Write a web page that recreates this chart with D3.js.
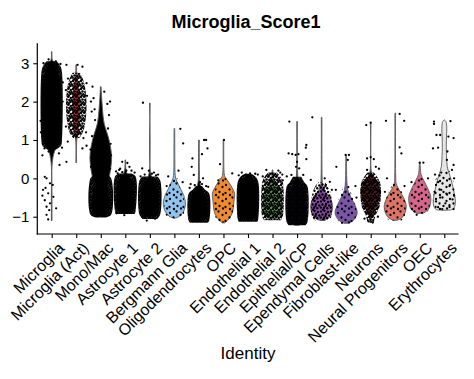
<!DOCTYPE html>
<html><head><meta charset="utf-8">
<script src="https://cdn.jsdelivr.net/npm/d3@7"></script>
<style>
body{margin:0;background:#fff}
svg{display:block}
text{font-family:"Liberation Sans",Arial,sans-serif}
</style>
</head><body>
<svg id="chart" width="474" height="379"></svg>
<script>
// ---------------- data ----------------
const chartTitle = "Microglia_Score1";
const xTitle = "Identity";
const categories = ["Microglia","Microglia (Act)","Mono/Mac","Astrocyte 1","Astrocyte 2","Bergmann Glia",
  "Oligodendrocytes","OPC","Endothelial 1","Endothelial 2","Epithelial/CP","Ependymal Cells",
  "Fibroblast-like","Neurons","Neural Progenitors","OEC","Erythrocytes"];
const yTicks = [-1, 0, 1, 2, 3];

// violin density outline per category: [score, relative half-width]
const violinShapes = [
  [[-1.1,0.03],[-0.5,0.03],[0.4,0.05],[0.7,0.25],[1.0,0.75],[1.8,0.85],[2.6,0.75],[2.95,0.3],[3.1,0.05],[3.3,0.03]],
  [[0.41,0.03],[1.0,0.05],[1.2,0.18],[1.6,0.3],[1.9,0.34],[2.3,0.26],[2.55,0.1],[2.7,0.05],[2.96,0.03]],
  [[-0.98,0.2],[-0.9,0.7],[-0.7,0.85],[-0.4,0.7],[-0.13,0.6],[0.12,0.82],[0.56,0.98],[1.0,0.75],[1.44,0.3],[1.78,0.16],[2.1,0.08],[2.39,0.03]],
  [[-0.9,0.3],[-0.8,0.75],[-0.45,0.8],[-0.1,0.7],[0.05,0.25],[0.25,0.05],[0.48,0.03]],
  [[-1.0,0.3],[-0.9,0.75],[-0.6,0.8],[-0.2,0.7],[-0.02,0.25],[0.2,0.04],[1.96,0.03]],
  [[-1.04,0.05],[-0.98,0.5],[-0.85,0.85],[-0.65,1.0],[-0.45,0.85],[-0.3,0.6],[-0.15,0.35],[0.0,0.12],[0.15,0.06],[0.5,0.04],[1.3,0.03]],
  [[-1.1,0.3],[-1.02,0.75],[-0.8,0.8],[-0.5,0.7],[-0.32,0.3],[-0.1,0.08],[0.2,0.04],[1.0,0.03]],
  [[-1.16,0.1],[-1.05,0.5],[-0.9,0.8],[-0.6,0.95],[-0.39,1.0],[-0.2,0.7],[-0.05,0.35],[0.05,0.12],[0.2,0.05],[1.0,0.03]],
  [[-1.08,0.3],[-1.0,0.75],[-0.5,0.8],[-0.15,0.75],[0.0,0.4],[0.1,0.05]],
  [[-1.05,0.3],[-0.95,0.75],[-0.6,0.85],[-0.3,0.7],[-0.1,0.28],[0.0,0.1],[0.1,0.06],[0.22,0.04]],
  [[-1.22,0.2],[-1.1,0.75],[-0.8,0.85],[-0.4,0.7],[-0.15,0.35],[0.0,0.1],[0.2,0.04],[1.48,0.03]],
  [[-1.09,0.2],[-1.0,0.7],[-0.75,1.0],[-0.5,0.75],[-0.35,0.35],[-0.2,0.1],[0.0,0.05],[1.59,0.03]],
  [[-1.17,0.2],[-1.08,0.7],[-0.9,1.0],[-0.7,0.8],[-0.5,0.45],[-0.3,0.15],[-0.05,0.06],[0.2,0.04],[0.61,0.03]],
  [[-1.15,0.04],[-0.95,0.15],[-0.7,0.6],[-0.35,0.9],[-0.1,0.65],[0.05,0.2],[0.2,0.05],[1.43,0.03]],
  [[-1.09,0.2],[-1.0,0.7],[-0.74,1.0],[-0.5,0.75],[-0.3,0.35],[-0.15,0.1],[0.0,0.05],[1.7,0.03]],
  [[-0.91,0.3],[-0.8,0.8],[-0.5,1.0],[-0.25,0.7],[-0.05,0.35],[0.1,0.12],[0.3,0.05],[0.39,0.04]],
  [[-0.83,0.2],[-0.8,0.8],[-0.65,1.0],[-0.39,0.9],[-0.04,0.62],[0.3,0.27],[0.6,0.2],[0.8,0.18],[1.1,0.2],[1.35,0.22],[1.48,0.15],[1.52,0.03]]
];

// envelope of the dense jittered cell cloud: [score, relative half-width]
const cloudShapes = [
  [[0.75,0.4],[0.85,0.9],[1.0,1],[2.75,1],[2.92,0.85],[3.05,0.5]],
  [[1.05,0.3],[1.2,0.65],[1.5,0.9],[1.9,1.0],[2.3,0.9],[2.55,0.7],[2.75,0.35]],
  [[-1.02,0.5],[-0.95,1.0],[0.0,1.0],[0.1,0.6]],
  [[-0.93,0.9],[-0.85,1],[0.05,1],[0.13,0.6]],
  [[-1.06,0.7],[-0.95,1],[-0.05,1],[0.05,0.7]],
  [[-1.04,0.3],[-0.95,0.85],[-0.7,1],[-0.4,0.8],[-0.2,0.5],[0.0,0.3]],
  [[-1.16,0.85],[-1.1,1],[-0.4,1],[-0.3,0.6],[-0.2,0.3]],
  [[-1.15,0.4],[-1.0,0.8],[-0.5,1],[-0.2,0.7],[0.0,0.35]],
  [[-1.13,0.9],[-1.05,1],[-0.1,1],[0.05,0.7],[0.12,0.3]],
  [[-1.09,0.8],[-1.0,1],[-0.1,1],[0.05,0.75],[0.15,0.4]],
  [[-1.22,0.8],[-1.15,1],[-0.2,1],[-0.1,0.7],[0.04,0.4]],
  [[-1.1,0.6],[-1.0,0.95],[-0.7,1],[-0.4,0.9],[-0.2,0.6],[-0.1,0.3]],
  [[-1.18,0.5],[-1.05,0.9],[-0.85,1],[-0.6,0.8],[-0.4,0.5],[-0.2,0.3]],
  [[-1.15,0.3],[-0.95,0.5],[-0.75,0.85],[-0.35,1],[-0.1,0.9],[0.05,0.6],[0.15,0.3]],
  [[-1.1,0.6],[-1.0,0.9],[-0.7,1],[-0.45,0.8],[-0.25,0.45],[-0.1,0.25]],
  [[-0.92,0.6],[-0.8,0.9],[-0.5,1],[-0.2,0.6],[0.0,0.3]],
  [[-0.83,0.7],[-0.7,1],[-0.3,1],[0.0,0.8],[0.2,0.5]]
];

// individual cells outside the dense cloud: [score, jitter offset (-1..1)]
const outlierPoints = [
  [[0.04,-0.67],[0.0,-0.5],[-0.13,-0.17],[-0.17,0.1],[-0.3,-0.84],[-0.39,-0.34],[-0.48,0.16],[-0.57,-0.67],[-0.65,-0.17],[-0.74,-0.5],[-0.83,-0.24],[-1.07,-0.34],[-0.78,0.43],[0.35,0.76],[0.6,-0.9],[0.65,0.7],[0.7,-0.3],[-0.25,-0.6],[-0.45,-0.9],[-0.95,-0.5],
   [3.1,-0.3],[3.05,0.4],[3.0,-0.8],[2.98,0.85],[2.5,1.08],[1.5,-1.08],[2.0,1.07],[1.2,-1.05],[0.8,1.0],[0.78,-0.7]],
  [[2.96,-0.95],[2.96,0.13],[2.91,0.6],[2.48,1.0],[2.6,-0.8],[1.35,-1.0],[0.96,-0.82],[1.05,0.7],[0.78,0.6],[0.43,-0.95],[0.85,1.0],[1.2,0.95],[2.15,1.05],[2.3,-1.0]],
  [[2.39,-0.8],[2.09,-0.7],[2.0,-0.95],[1.8,-0.6],[1.94,0.64],[2.0,0.9],[1.52,-0.55],[1.3,0.7],[1.1,-0.85],[0.9,0.95],[0.53,-0.9],[0.3,-0.95],[0.6,1.0],[0.25,0.9],[1.65,0.8],[0.75,-1.0],[1.74,-0.88],[2.26,0.34]],
  [[0.43,-0.3],[0.4,0.2],[0.13,-0.74],[0.2,0.6],[-0.96,-0.1],[-0.91,-0.86],[0.25,-0.5],[0.3,0.4],[0.18,-0.9],[0.16,-0.3],[0.2,0.1],[0.15,0.9],[0.22,-0.6]],
  [[1.97,-0.67],[0.26,-0.74],[0.2,-0.1],[0.15,0.4],[0.1,0.8],[-1.1,-0.3],[-1.05,0.5],[0.05,-0.9],[0.1,-0.5],[0.12,0.2],[0.08,0.6]],
  [[1.29,0.58],[0.91,0.85],[0.2,0.4],[0.05,-0.6],[-0.1,0.8],[-0.2,-0.75]],
  [[1.0,0.5],[1.0,0.7],[0.52,-0.63],[0.78,0.83],[0.63,0.3],[0.3,-0.7],[0.09,-0.5],[0.0,0.4],[-0.15,-0.8],[-0.2,0.7],[-0.1,0.1],[-0.25,-0.9],[-0.22,0.9],[-0.18,-0.4],[-0.15,0.3]],
  [[0.37,-0.33],[0.13,0.85],[-0.05,-0.5],[1.0,0.05]],
  [[0.15,-0.6],[0.13,0.2],[0.12,0.7],[0.1,-0.2],[0.08,-0.9],[0.1,0.95]],
  [[0.22,-0.6],[0.2,0.57],[0.15,0.75],[0.05,-0.95],[0.1,0.95],[-0.05,1.0]],
  [[1.48,-0.75],[0.65,-0.82],[0.63,-0.47],[0.61,-0.14],[0.63,0.13],[0.87,0.9],[0.8,0.85],[0.5,0.9],[0.43,0.0],[0.3,-0.1],[0.26,0.2],[0.09,-0.55],[0.05,-1.0],[0.09,0.6]],
  [[1.59,-0.9],[-0.04,-1.05],[-0.09,0.8],[-0.3,1.0],[-0.17,0.4],[0.0,0.3]],
  [[0.61,-0.05],[0.61,0.27],[0.48,0.16],[0.3,-0.95],[-0.3,-1.0],[-0.2,0.9],[-0.5,1.0]],
  [[1.39,-0.43],[1.45,0.0],[0.52,-0.35],[0.55,0.0],[0.5,0.3],[0.22,-0.35],[0.25,0.8],[0.3,0.5],[-1.15,0.2],[-1.05,-0.6],[-1.0,0.7]],
  [[1.5,-0.9],[1.68,0.43],[1.5,0.87],[0.81,0.43],[0.65,0.6],[-0.35,-1.0],[-0.2,0.9],[0.0,-0.8]],
  [[0.41,0.0],[0.41,0.35],[-0.95,-0.3],[-0.1,-0.8],[0.0,0.8]],
  [[1.48,-1.0],[1.49,0.6],[1.42,-1.0],[1.13,-0.76],[1.13,-0.4],[1.09,0.4],[1.05,0.9],[0.78,-1.1],[0.8,-0.6],[0.7,0.3],[0.48,0.25],[0.35,0.9],[0.22,0.75],[0.15,-0.3],[0.1,-0.9],[0.0,0.95],[-0.1,-0.6],[-0.2,0.5],[-0.35,-0.95],[-0.4,0.2],[-0.5,-0.4],[-0.55,0.8],[-0.6,-0.8],[-0.65,0.1],[-0.7,0.5],[-0.75,-0.6],[-0.8,0.9],[-0.8,-0.2],[-0.45,0.95],[-0.3,-0.3]]
];

// ---------------- styles ----------------
const violinColors = ["#000000","#c9313c","#000000","#000000","#000000","#8fc4ee","#000000","#f08a30",
  "#000000","#5f9258","#45285f","#8a4ca8","#7a55a8","#5a1a24","#de7468","#d7658c","#e6e6e6"];
const cloudStyle = ["dense","heavy","dense","dense","dense","sparse","dense","sparse","dense","heavy",
  "dense","medium","sparse","heavy","sparse","sparse","sparse"];

// ---------------- drawing ----------------
const svg = d3.select("#chart");
const axisLeftX = 37.3, axisRightX = 458.5, plotTop = 43.3, plotBottom = 234;

const x = d3.scalePoint().domain(categories).range([51.7, 444.3]);
const y = d3.scaleLinear().domain([-1.45, 3.52]).range([plotBottom, plotTop]);
const step = x.step();
const violinHalf = 0.45 * step;
const cloudHalf = 0.42 * step;

// dot textures for dense point clouds
const defs = svg.append("defs");
const patterns = {
  dense: {size: 8, r: 1.35, dots: [[1,1],[3.2,0.6],[5.5,1.3],[7.4,0.4],[0.4,3.2],[2.3,2.8],[4.4,3.4],[6.6,2.7],
                                  [1.4,5.2],[3.4,5],[5.6,5.4],[7.5,4.8],[0.6,7.2],[2.6,7.4],[4.6,6.9],[6.7,7.3]]},
  heavy: {size: 8, r: 1.25, dots: [[1,1],[4.2,0.8],[6.8,1.9],[2.5,3.4],[5.3,3.9],[0.5,5.6],[3.3,6.3],[6.3,6.1],[7.6,4.2],[1.8,7.6],[4.8,7.8]]},
  medium: {size: 10, r: 1.2, dots: [[1,1.5],[4.5,0.8],[8,2],[2.5,4.5],[6,4],[9.3,5.5],[0.8,7.5],[4,7.8],[7.2,8.3],[5.5,6],[3,9.6]]},
  sparse: {size: 14, r: 1.15, dots: [[2,3],[8.5,1.5],[12.5,5],[5.5,7.5],[1.5,11],[9.5,10],[13,12.5],[6,13]]}
};
Object.entries(patterns).forEach(([name, p]) => {
  const pat = defs.append("pattern").attr("id", "pat-" + name)
    .attr("patternUnits", "userSpaceOnUse").attr("width", p.size).attr("height", p.size);
  const copies = [];
  p.dots.forEach(d => {
    [-1,0,1].forEach(ox => [-1,0,1].forEach(oy => copies.push([d[0] + ox * p.size, d[1] + oy * p.size])));
  });
  pat.selectAll("circle").data(copies).join("circle")
    .attr("cx", d => d[0]).attr("cy", d => d[1]).attr("r", p.r).attr("fill", "#000");
});

const g = svg.append("g");
categories.forEach((cat, i) => {
  const cx = x(cat);
  const violinArea = d3.area().curve(d3.curveCatmullRom.alpha(0.5))
    .y(d => y(d[0])).x0(d => cx - d[1] * violinHalf).x1(d => cx + d[1] * violinHalf);
  g.append("path").attr("d", violinArea(violinShapes[i]))
    .attr("fill", violinColors[i]).attr("stroke", "#5a5a5a").attr("stroke-width", 0.9);

  const cloudArea = d3.area().curve(d3.curveCatmullRom.alpha(0.5))
    .y(d => y(d[0])).x0(d => cx - d[1] * cloudHalf).x1(d => cx + d[1] * cloudHalf);
  g.append("path").attr("d", cloudArea(cloudShapes[i]))
    .attr("fill", "url(#pat-" + cloudStyle[i] + ")");

  g.append("g").selectAll("circle").data(outlierPoints[i]).join("circle")
    .attr("cx", d => cx + d[1] * cloudHalf).attr("cy", d => y(d[0]))
    .attr("r", 1.15).attr("fill", "#000");
});

// axes
const font = '"Liberation Sans", Arial, sans-serif';
const yAxis = svg.append("g").attr("transform", `translate(${axisLeftX},0)`)
  .call(d3.axisLeft(y).tickValues(yTicks).tickSize(4).tickPadding(4).tickFormat(d3.format("d")));
yAxis.select(".domain").remove();
yAxis.selectAll("text").attr("font-size", 15).attr("fill", "#000").attr("font-family", font);
yAxis.selectAll("line").attr("stroke", "#000").attr("stroke-width", 1.1);

const xAxis = svg.append("g").attr("transform", `translate(0,${plotBottom})`)
  .call(d3.axisBottom(x).tickSize(4).tickPadding(0));
xAxis.select(".domain").remove();
xAxis.selectAll("line").attr("stroke", "#000").attr("stroke-width", 1.1);
xAxis.selectAll("text").attr("font-size", 16).attr("fill", "#000").attr("font-family", font)
  .attr("text-anchor", "end").attr("y", 0).attr("dy", "0.72em")
  .attr("transform", "translate(5,7) rotate(-45)");

svg.append("line").attr("x1", axisLeftX).attr("x2", axisLeftX).attr("y1", plotTop).attr("y2", plotBottom + 0.6)
  .attr("stroke", "#000").attr("stroke-width", 1.2);
svg.append("line").attr("x1", axisLeftX - 0.6).attr("x2", axisRightX).attr("y1", plotBottom).attr("y2", plotBottom)
  .attr("stroke", "#000").attr("stroke-width", 1.2);

// titles
svg.append("text").attr("x", 246).attr("y", 28).attr("text-anchor", "middle")
  .attr("font-size", 18).attr("font-weight", "bold").text(chartTitle);
svg.append("text").attr("x", 248).attr("y", 359).attr("text-anchor", "middle")
  .attr("font-size", 17).text(xTitle);
</script>
</body></html>
